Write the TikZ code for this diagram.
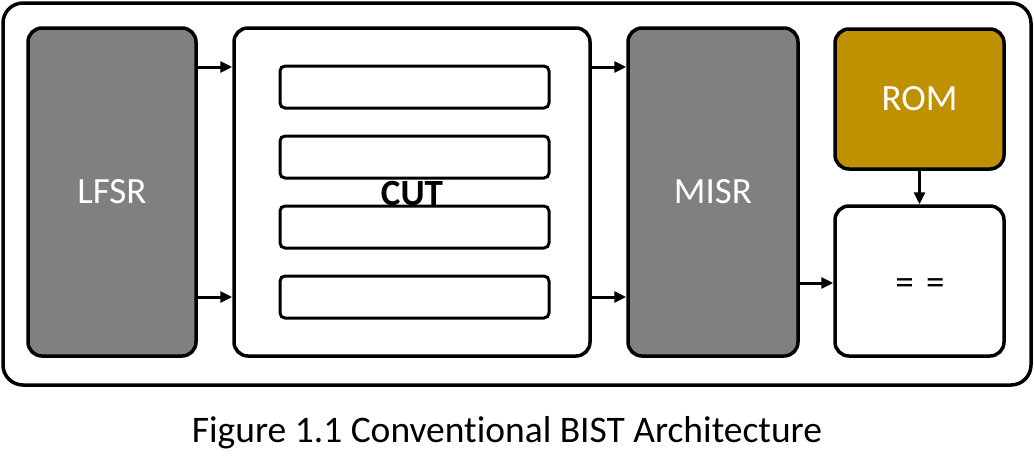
\documentclass[tikz,border=0pt]{standalone}
\usepackage{fontspec}
\setmainfont[Ligatures=NoCommon]{Carlito}
\usetikzlibrary{arrows.meta}
\definecolor{romGold}{HTML}{BF9000}
\definecolor{blockGray}{HTML}{808080}
\begin{document}
\begin{tikzpicture}[x=1pt, y=-1pt,
    blockStyle/.style={rectangle, rounded corners=14pt, draw, line width=3.5pt, inner sep=0pt,
        font=\fontsize{37}{40}\selectfont},
    barStyle/.style={rectangle, rounded corners=5pt, draw, line width=3pt, fill=white, inner sep=0pt,
        minimum width=269pt, minimum height=42pt},
    arrowStyle/.style={line width=3pt, -{Triangle[length=12pt, width=11pt]}}]
    \useasboundingbox[fill=white] (0,0) rectangle (1034,475);
    \node[blockStyle, rounded corners=20pt, minimum width=1028pt, minimum height=382pt](frame) at (517,194) {};

    \node[blockStyle, fill=blockGray, text=white, minimum width=168pt, minimum height=328pt](lfsr) at (112,192) {LFSR};
    \node[blockStyle, fill=white, minimum width=356pt, minimum height=328pt](cut) at (412,192) {};
    \node[barStyle](bar1) at (414.5,87) {};
    \node[barStyle](bar2) at (414.5,157) {};
    \node[barStyle](bar3) at (414.5,227) {};
    \node[barStyle](bar4) at (414.5,297) {};
    \node[font=\fontsize{37}{40}\selectfont\bfseries](cutLabel) at (412,193) {CUT};
    \node[blockStyle, fill=blockGray, text=white, minimum width=170pt, minimum height=328pt](misr) at (713,192) {MISR};
    \node[blockStyle, fill=romGold, text=white, minimum width=169pt, minimum height=140pt](rom) at (919.5,99) {ROM};
    \node[blockStyle, fill=white, minimum width=169pt, minimum height=150pt](cmp) at (919.5,281) {};
    \node[font=\fontsize{37}{40}\selectfont](cmpLabel) at (920,287) {=\,\,=};

    \draw[arrowStyle] (lfsr.east |- 0,67) -- (cut.west |- 0,67);
    \draw[arrowStyle] (lfsr.east |- 0,297) -- (cut.west |- 0,297);
    \draw[arrowStyle] (cut.east |- 0,67) -- (misr.west |- 0,67);
    \draw[arrowStyle] (cut.east |- 0,297) -- (misr.west |- 0,297);
    \draw[arrowStyle] (misr.east |- 0,283) -- (cmp.west |- 0,283);
    \draw[arrowStyle] (rom.south) -- (cmp.north);

    \node[font=\fontsize{37.5}{40}\selectfont](caption) at (507,433) {Figure 1.1 Conventional BIST Architecture};
\end{tikzpicture}
\end{document}
